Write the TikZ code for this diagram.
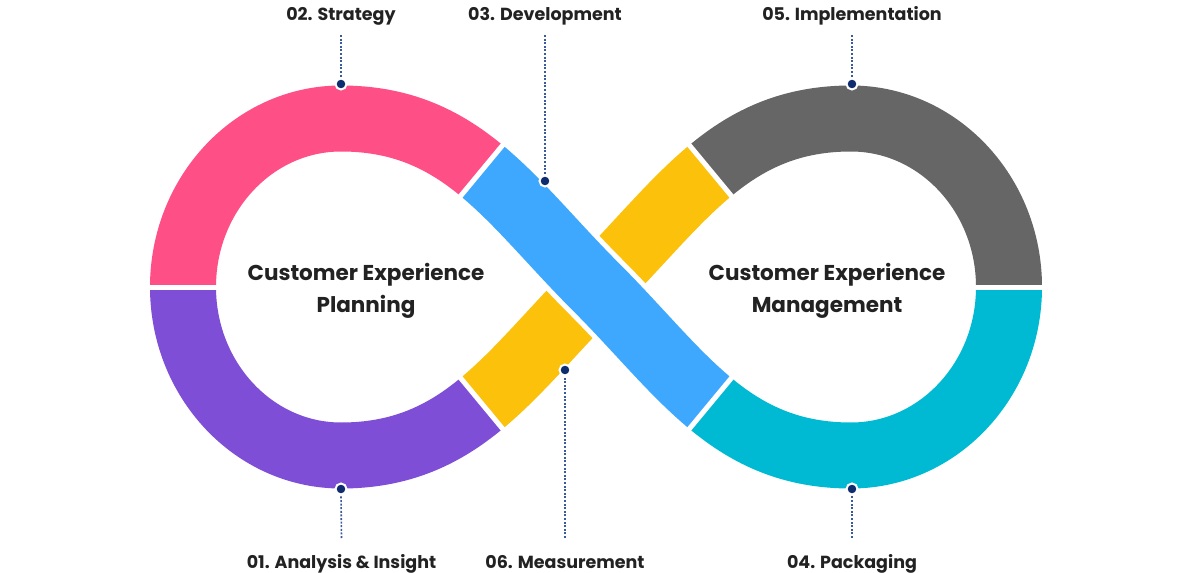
\documentclass[tikz,border=0pt]{standalone}
\usepackage{fontspec}
\setmainfont{Poppins}
\definecolor{cpink}{HTML}{FF4F87}
\definecolor{cpurple}{HTML}{7E4ED6}
\definecolor{cblue}{HTML}{3DA8FD}
\definecolor{cyellow}{HTML}{FCC10A}
\definecolor{cgray}{HTML}{666666}
\definecolor{cteal}{HTML}{00BAD4}
\definecolor{navy}{HTML}{0F2D6E}
\definecolor{lead}{HTML}{3B5A9A}
\definecolor{txt}{HTML}{222222}
\begin{document}
\begin{tikzpicture}[x=1pt,y=-1pt,
  band/.style={line width=66pt},
  cutline/.style={white,line width=5pt},
  lbl/.style={font=\bfseries\fontsize{17.5}{21}\selectfont,text=txt,inner sep=0pt,anchor=base},
  ctr/.style={font=\bfseries\fontsize{21.5}{32}\selectfont,text=txt,align=center,inner sep=0pt},
  dotn/.style={circle,fill=navy,draw=white,line width=2pt,inner sep=0pt,minimum size=11pt},
  leader/.style={draw=lead,line width=1.6pt,dash pattern=on 2pt off 1.6pt}]
\useasboundingbox[fill=white] (0,0) rectangle (1192,573);
% bands
\draw[band,cpink] (481.6,170.6) .. controls (443.5,139) and (401,118.5) .. (341,118.5)
  .. controls (253.8,118.5) and (183,194) .. (183,287);
\draw[band,cpurple] (183,287) .. controls (183,380) and (253.8,455.5) .. (341,455.5)
  .. controls (401,455.5) and (443.5,435) .. (481.6,403.4);
\draw[band,cgray] (710.4,170.6) .. controls (748.5,139) and (791,118.5) .. (851,118.5)
  .. controls (938.2,118.5) and (1009,194) .. (1009,287);
\draw[band,cteal] (1009,287) .. controls (1009,380) and (938.2,455.5) .. (851,455.5)
  .. controls (791,455.5) and (748.5,435) .. (710.4,403.4);
\draw[band,cyellow] (481.6,403.4) .. controls (519.75,371.75) and (553.5,329.5) .. (596,287)
  .. controls (638.5,244.5) and (672.25,202.25) .. (710.4,170.6);
\draw[white,line width=76pt] (710.4,403.4) .. controls (672.25,371.75) and (638.5,329.5) .. (596,287)
  .. controls (553.5,244.5) and (519.75,202.25) .. (481.6,170.6);
\draw[band,cblue] (710.4,403.4) .. controls (672.25,371.75) and (638.5,329.5) .. (596,287)
  .. controls (553.5,244.5) and (519.75,202.25) .. (481.6,170.6);
% separators
\draw[cutline] (507.1,139.8) -- (456.1,201.4);
\draw[cutline] (507.1,434.2) -- (456.1,372.6);
\draw[cutline] (684.9,139.8) -- (735.9,201.4);
\draw[cutline] (684.9,434.2) -- (735.9,372.6);
\draw[cutline] (140,287) -- (226,287);
\draw[cutline] (966,287) -- (1052,287);
% centre texts
\node[ctr] (plan) at (366,291) {Customer Experience\\Planning};
\node[ctr] (mgmt) at (827,291) {Customer Experience\\Management};
% labels
\node[lbl] (l2) at (341,20) {02. Strategy};
\node[lbl] (l3) at (545,20) {03. Development};
\node[lbl] (l5) at (852,20) {05. Implementation};
\node[lbl] (l1) at (341.5,568) {01. Analysis \& Insight};
\node[lbl] (l6) at (565,568) {06. Measurement};
\node[lbl] (l4) at (852,568) {04. Packaging};
% dots
\node[dotn] (d2) at (341,84) {};
\node[dotn] (d3) at (545,181) {};
\node[dotn] (d5) at (852,84) {};
\node[dotn] (d1) at (341,489) {};
\node[dotn] (d6) at (565,370) {};
\node[dotn] (d4) at (852,489) {};
% leaders
\draw[leader] ([yshift=-15pt]l2.base) -- (d2.north);
\draw[leader] ([yshift=-15pt]l3.base) -- (d3.north);
\draw[leader] ([yshift=-15pt]l5.base) -- (d5.north);
\draw[leader] ([yshift=30pt]l1.base) -- (d1.south);
\draw[leader] ([yshift=30pt]l6.base) -- (d6.south);
\draw[leader] ([yshift=30pt]l4.base) -- (d4.south);
\end{tikzpicture}
\end{document}
